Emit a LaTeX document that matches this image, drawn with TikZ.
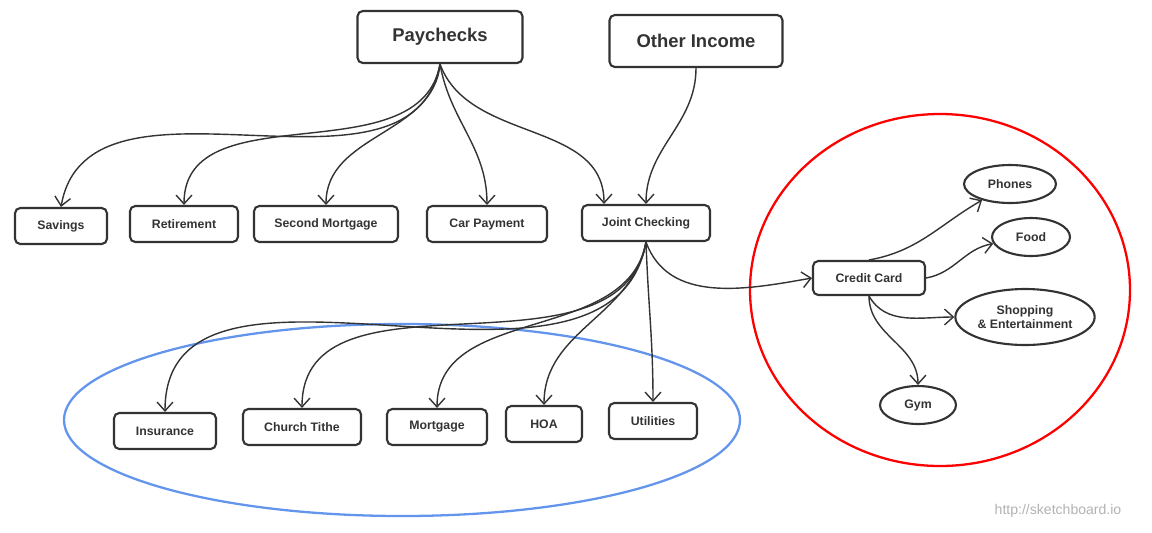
\documentclass[tikz,border=0pt]{standalone}
\usepackage{fontspec}
\setmainfont{Liberation Sans}
\usetikzlibrary{arrows.meta, shapes.geometric}
\tikzset{
  arrow/.style = {thick, draw=black!80, -{Straight Barb[length=5pt,width=9pt]}},
  block/.style = {rectangle, draw=black!80, very thick, rounded corners=3pt, font=\bfseries\fontsize{7}{8}\selectfont, text=black!80, minimum height=0.72cm},
  big/.style   = {block, font=\bfseries\fontsize{10.5}{12}\selectfont, minimum height=1.04cm},
  oval/.style  = {ellipse, draw=black!80, very thick, font=\bfseries\fontsize{7}{8}\selectfont, text=black!80, align=center, minimum height=0.76cm, inner sep=1pt}
}
\begin{document}
\begin{tikzpicture}[x=0.02cm, y=-0.02cm]
    \useasboundingbox (0,0) rectangle (1152,532);
    % groups
    \draw [draw={rgb,255:red,100;green,149;blue,237}, line width=1.3pt] (402,420) ellipse [x radius=338, y radius=96];
    \draw [red, line width=1.3pt] (940,290) ellipse [x radius=190, y radius=176];
    % sources
    \node (pay)   at (440,37) [big, minimum width=3.3cm] {Paychecks};
    \node (other) at (696,41) [big, minimum width=3.46cm] {Other Income};
    % first level
    \node (sav)  at (61,226)  [block, minimum width=1.84cm] {Savings};
    \node (ret)  at (184,224) [block, minimum width=2.16cm] {Retirement};
    \node (smo)  at (326,224) [block, minimum width=2.88cm] {Second Mortgage};
    \node (car)  at (487,224) [block, minimum width=2.4cm]  {Car Payment};
    \node (jnt)  at (646,223) [block, minimum width=2.56cm] {Joint Checking};
    % bills
    \node (ins)  at (165,431) [block, minimum width=2.04cm] {Insurance};
    \node (chu)  at (302,427) [block, minimum width=2.36cm] {Church Tithe};
    \node (mor)  at (437,427) [block, minimum width=2cm]    {Mortgage};
    \node (hoa)  at (544,424) [block, minimum width=1.52cm] {HOA};
    \node (uti)  at (653,421) [block, minimum width=1.76cm] {Utilities};
    % credit card
    \node (cc)   at (869,278) [block, minimum width=2.24cm, minimum height=0.68cm] {Credit Card};
    \node (pho)  at (1010,184) [oval, minimum width=1.84cm] {Phones};
    \node (foo)  at (1031,237) [oval, minimum width=1.56cm] {Food};
    \node (sho)  at (1025,317) [oval, minimum width=2.68cm, minimum height=1.12cm] {Shopping\\\& Entertainment};
    \node (gym)  at (918,405)  [oval, minimum width=1.52cm] {Gym};

    \draw [arrow] (pay.south) to[out=-100,in=80] (sav.north);
    \draw [arrow] (pay.south) to[out=-100,in=90] (ret.north);
    \draw [arrow] (pay.south) to[out=-95,in=90]  (smo.north);
    \draw [arrow] (pay.south) to[out=-80,in=90]  (car.north);
    \draw [arrow] (pay.south) to[out=-70,in=90]  ([xshift=-0.84cm]jnt.north);
    \draw [arrow] (other.south) to[out=-90,in=90] (jnt.north);

    \draw [arrow] (jnt.south) to[out=-100,in=90] (ins.north);
    \draw [arrow] (jnt.south) to[out=-100,in=90] (chu.north);
    \draw [arrow] (jnt.south) to[out=-100,in=90] (mor.north);
    \draw [arrow] (jnt.south) to[out=-100,in=90] (hoa.north);
    \draw [arrow] (jnt.south) to[out=-88,in=90]  (uti.north);
    \draw [arrow] (jnt.south) to[out=-70,in=190] (cc.west);

    \draw [arrow] (cc.north) to[out=10,in=210] (pho);
    \draw [arrow] (cc.east) to[out=10,in=190]  (foo);
    \draw [arrow] (cc.south) to[out=-60,in=180] (sho.west);
    \draw [arrow] (cc.south) to[out=-90,in=90] (gym.north);

    \node (url) at (1058,511) [text=black!30, font=\fontsize{8}{9}\selectfont] {http://sketchboard.io};
\end{tikzpicture}
\end{document}
